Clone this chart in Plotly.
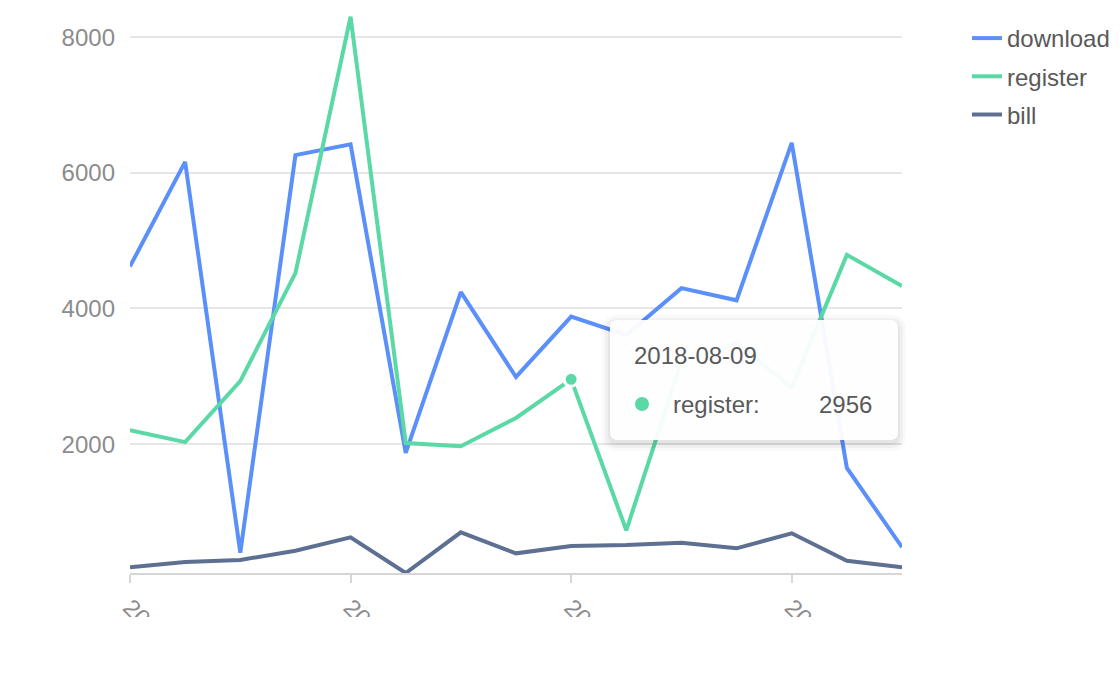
import plotly.graph_objects as go

# daily counts, 2018-08-01 .. 2018-08-15
dates = ['2018-08-01', '2018-08-02', '2018-08-03', '2018-08-04', '2018-08-05',
         '2018-08-06', '2018-08-07', '2018-08-08', '2018-08-09', '2018-08-10',
         '2018-08-11', '2018-08-12', '2018-08-13', '2018-08-14', '2018-08-15']
download = [4620, 6160, 400, 6260, 6420, 1870, 4240, 2990, 3880, 3610, 4300, 4120, 6440, 1650, 480]
register = [2207, 2030, 2930, 4520, 8300, 2015, 1970, 2385, 2956, 730, 3214, 3494, 2836, 4790, 4330]
bill = [184, 262, 292, 429, 626, 100, 700, 390, 498, 513, 547, 464, 685, 281, 184]

series = [('download', download, '#5B8FF9'),
          ('register', register, '#5AD8A6'),
          ('bill', bill, '#5D7092')]

# hovered point shown in the static tooltip
hover_idx = 8

font = 'Liberation Sans, Arial, Helvetica, sans-serif'

fig = go.Figure()
for name, vals, color in series:
    fig.add_trace(go.Scatter(x=dates, y=vals, name=name, legendgroup=name, mode='lines',
                             line=dict(color=color, width=4)))

# highlighted point under the tooltip
fig.add_trace(go.Scatter(x=[dates[hover_idx]], y=[register[hover_idx]], mode='markers',
                         marker=dict(size=14, color='#5AD8A6', line=dict(color='white', width=3)),
                         showlegend=False, hoverinfo='skip'))

# page body adds 8px, so figure coords = screen coords - 8
# plot area on screen: x 130..902, y 10..573
def px_x(p):
    return (p - 130) / 772.0

def px_y(p):
    return (573 - p) / 563.0

def round_rect(x0, y0, x1, y1, r):
    rx, ry = r / 772.0, r / 563.0
    a, b, c, d = px_x(x0), px_y(y1), px_x(x1), px_y(y0)
    return (f'M{a + rx},{b} L{c - rx},{b} Q{c},{b} {c},{b + ry} '
            f'L{c},{d - ry} Q{c},{d} {c - rx},{d} L{a + rx},{d} '
            f'Q{a},{d} {a},{d - ry} L{a},{b + ry} Q{a},{b} {a + rx},{b} Z')

shapes = []
for i, alpha in enumerate([0.025, 0.035, 0.045]):
    g = 8 - i * 3
    shapes.append(dict(type='path', xref='paper', yref='paper',
                       path=round_rect(610 - g, 320 - g + 3, 898 + g, 440 + g + 3, 8 + g),
                       fillcolor=f'rgba(0,0,0,{alpha})', line=dict(width=0)))
shapes.append(dict(type='path', xref='paper', yref='paper',
                   path=round_rect(610, 320, 898, 440, 8),
                   fillcolor='rgba(255,255,255,0.95)', line=dict(width=0)))
shapes.append(dict(type='circle', xref='paper', yref='paper',
                   xsizemode='pixel', ysizemode='pixel',
                   xanchor=px_x(642), yanchor=px_y(404),
                   x0=-7, x1=7, y0=-7, y1=7,
                   fillcolor='#5AD8A6', line=dict(width=0)))

tip_font = dict(family=font, size=24, color='#595959')
annotations = [
    dict(text=dates[hover_idx], x=px_x(632), y=px_y(355), xref='paper', yref='paper',
         xanchor='left', yanchor='middle', showarrow=False, font=tip_font),
    dict(text='register:', x=px_x(671), y=px_y(404), xref='paper', yref='paper',
         xanchor='left', yanchor='middle', showarrow=False, font=tip_font),
    dict(text=str(register[hover_idx]), x=px_x(874), y=px_y(404), xref='paper', yref='paper',
         xanchor='right', yanchor='middle', showarrow=False, font=tip_font),
]

ymin = min(min(download), min(register), min(bill))

fig.update_layout(
    width=1112, height=609,
    margin=dict(l=122, r=218, t=2, b=44),
    paper_bgcolor='white', plot_bgcolor='white',
    font=dict(family=font, size=24, color='#8c8c8c'),
    shapes=shapes, annotations=annotations,
    legend=dict(x=px_x(967), y=px_y(16), xanchor='left', yanchor='top',
                font=dict(size=24, color='#595959'), itemwidth=30,
                tracegroupgap=4, bgcolor='rgba(0,0,0,0)'),
    xaxis=dict(type='category', range=[0, len(dates) - 1], automargin=False,
               tickmode='array', tickvals=dates[::4], ticktext=dates[::4],
               tickangle=45, showgrid=False, zeroline=False,
               showline=True, linecolor='#d6d6d6', linewidth=2,
               ticks='outside', ticklen=8, tickcolor='#d6d6d6', tickwidth=1.5,
               ticklabelstandoff=1, tickfont=dict(size=24, color='#8c8c8c')),
    yaxis=dict(range=[ymin, 8400], automargin=False,
               tickmode='array', tickvals=[2000, 4000, 6000, 8000],
               showgrid=True, gridcolor='#e6e6e6', gridwidth=1.5,
               zeroline=False, showline=False, ticks='',
               ticklabelstandoff=14, tickfont=dict(size=24, color='#8c8c8c')),
)

fig.write_html('out.html')
